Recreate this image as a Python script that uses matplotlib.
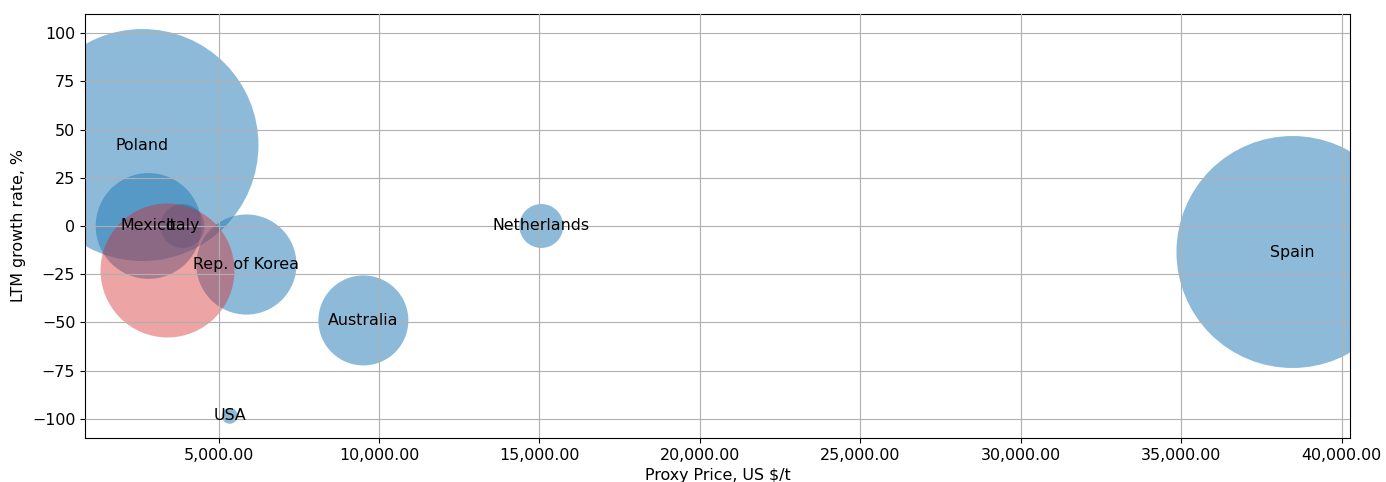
import numpy as np
import matplotlib
matplotlib.use("Agg")
import matplotlib.pyplot as plt
from matplotlib.ticker import FuncFormatter

# data
countries = ['Poland', 'Mexico', 'Italy', 'Rep. of Korea', 'Australia',
             'Netherlands', 'USA', 'Spain']
price = [2630, 2820, 3880, 5870, 9515, 15060, 5350, 38470]
growth = [42, 0, 0, -20, -49, 0, -98.5, -13.5]
volume = [27900, 5800, 1000, 5200, 4200, 1000, 130, 27900]

# highlighted (unlabelled) market
hl_price = [3410]
hl_growth = [-23]
hl_volume = [9300]

plt.rcParams['font.size'] = 11.4

fig, ax = plt.subplots(figsize=(13.86, 4.82), dpi=100)
fig.subplots_adjust(left=0.0613, right=0.974, top=0.971, bottom=0.0913)

ax.scatter(price, growth, s=volume, color='#1f77b4', alpha=0.5, linewidths=0)
ax.scatter(hl_price, hl_growth, s=hl_volume, color='#d62728', alpha=0.42,
           linewidths=0)

for name, x, y in zip(countries, price, growth):
    ax.text(x, y, name, ha='center', va='center', fontsize=11.4)

ax.set_ylim(-110, 110)
ax.xaxis.set_major_formatter(FuncFormatter(lambda v, p: f'{v:,.2f}'))
ax.grid(True, color='#b0b0b0')
ax.set_axisbelow(False)
ax.set_xlabel('Proxy Price, US $/t')
ax.set_ylabel('LTM growth rate, %')

fig.savefig('out.png', dpi=100)
